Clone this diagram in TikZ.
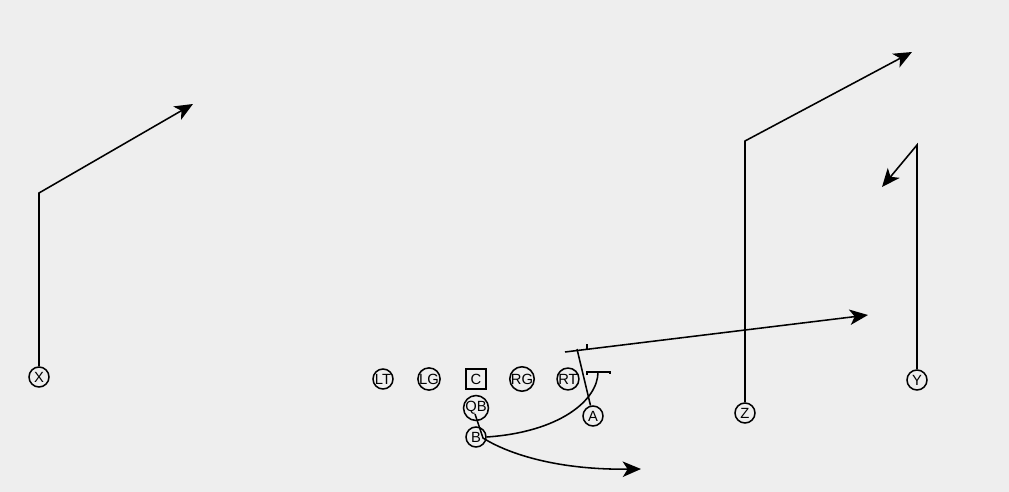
\documentclass[tikz,border=0pt]{standalone}
\usepackage{fontspec}
\setmainfont{Liberation Sans}
\usetikzlibrary{arrows.meta}

\definecolor{field}{RGB}{238,238,238}
\tikzset{
    player/.style={circle, draw, line width=1.1pt, inner sep=0pt, minimum size=0.5cm,
        font=\fontsize{10.5}{11}\selectfont},
    snapper/.style={rectangle, draw, line width=1.5pt, inner sep=0pt, minimum size=0.5cm,
        font=\fontsize{10.5}{11}\selectfont},
    route/.style={line width=1.1pt, -{Stealth[length=13pt,width=11pt,inset=3.5pt]}},
    block/.style={line width=1.1pt}
}

\begin{document}
\begin{tikzpicture}[x=0.025cm, y=-0.025cm]
    \fill[field] (0,0) rectangle (1009,492);
    \useasboundingbox (0,0) rectangle (1009,492);

    % line
    \node[player] (LT) at (383,379) {LT};
    \node[player] (LG) at (429,379) {LG};
    \node[snapper] (C) at (476,379) {C};
    \node[player] (RG) at (522,379) {RG};
    \node[player] (RT) at (568,379) {RT};
    % backs
    \node[player] (QB) at (476,408) {QB};
    \node[player] (B) at (476,437) {B};
    \node[player] (A) at (593,416) {A};
    % receivers
    \node[player] (X) at (39,377) {X};
    \node[player] (Z) at (745,413) {Z};
    \node[player] (Y) at (917,380) {Y};

    \coordinate (xcut) at (39,193);
    \coordinate (xend) at (193,104);
    \coordinate (zcut) at (745,141);
    \coordinate (zend) at (912,52);
    \coordinate (ycut) at (917,145);
    \coordinate (yend) at (882,187);
    \coordinate (acut) at (577,349);
    \coordinate (astart) at (565,352);
    \coordinate (atick) at (587,349);
    \coordinate (aend) at (868,315);
    \coordinate (bblock) at (598,372);
    \coordinate (qbstart) at (475,414);
    \coordinate (bhook) at (483,438);
    \coordinate (bend) at (641,469);

    \draw[route] (X) -- (xcut) -- (xend);
    \draw[route] (Z) -- (zcut) -- (zend);
    \draw[route] (Y) -- (ycut) -- (yend);

    \draw[block] (A) -- (acut);
    \draw[route] (astart) -- (aend);
    \draw[block] (atick) -- ++(0,-5);

    \draw[block] (B.east) .. controls (560,432) and (598,400) .. (bblock);
    \draw[block] ([yshift=-2pt]587,372) -- (587,372) -- (610,372) -- ++(0,2.5);
    \draw[route] (qbstart) -- (bhook) .. controls (510,455) and (560,470) .. (bend);
\end{tikzpicture}
\end{document}
